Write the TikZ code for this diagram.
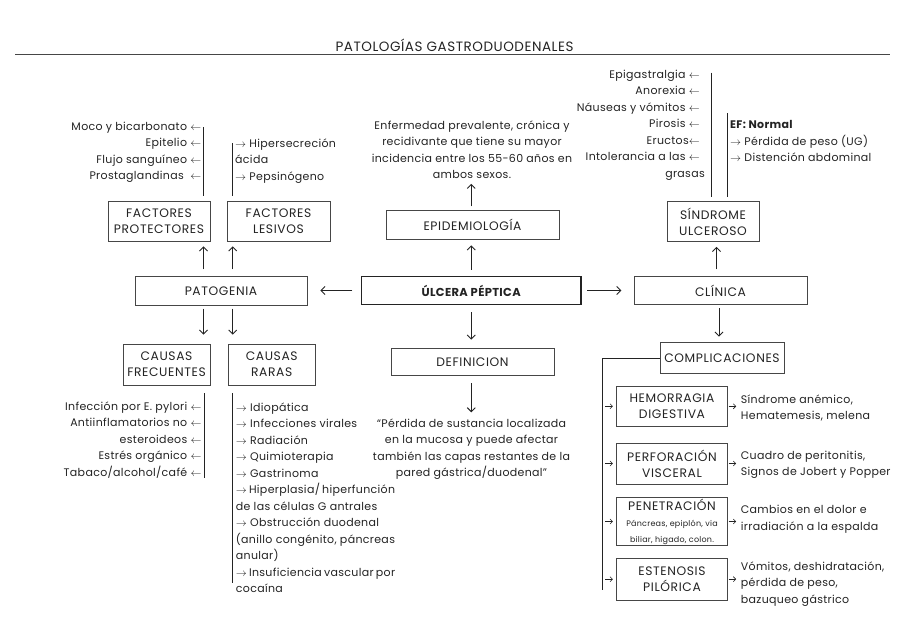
\documentclass[tikz,border=0pt]{standalone}
\usepackage{fontspec}
\setmainfont{Poppins}[LetterSpace=3]
\newfontfamily\cajafont{Poppins}[LetterSpace=5]
\newfontfamily\titulofont{Poppins}[LetterSpace=4]
\usetikzlibrary{arrows.meta,positioning}
\definecolor{tinta}{RGB}{35,35,35}
\definecolor{borde}{RGB}{70,70,70}
\tikzset{
  caja/.style={draw=borde, line width=0.8pt, align=center, inner sep=1pt, text=tinta,
    font=\cajafont\fontsize{12.3}{16}\selectfont},
  texto/.style={inner sep=0pt, text=tinta, font=\fontsize{11}{16.5}\selectfont},
  flecha/.style={draw=tinta, line width=0.9pt, -{Straight Barb[length=4pt,width=8pt]}},
  flechita/.style={draw=tinta, line width=0.6pt, -{Straight Barb[length=2.5pt,width=5pt]}},
  raya/.style={draw=tinta, line width=0.8pt},
}
\newcommand{\flizq}{$\leftarrow$}
\newcommand{\flder}{$\rightarrow$}

\begin{document}
\begin{tikzpicture}[x=1pt,y=-1pt]
\useasboundingbox (0,0) rectangle (905,640);
% titulo
\node[texto, font=\titulofont\fontsize{13.5}{15}\selectfont] (titulo) at (454.5,45) {PATOLOGÍAS GASTRODUODENALES};
\draw[raya, draw=borde] (15,54.5) -- (890,54.5);

% cajas
\node[caja, minimum width=102pt, minimum height=40pt] (protect) at (159,221.5) {FACTORES\\PROTECTORES};
\node[caja, minimum width=103pt, minimum height=40pt] (lesivos) at (278.5,221.5) {FACTORES\\LESIVOS};
\node[caja, minimum width=173pt, minimum height=29pt] (epidemio) at (472.5,224.5) {EPIDEMIOLOGÍA};
\node[caja, minimum width=92pt, minimum height=40pt] (sindrome) at (713,221.5) {SÍNDROME\\ULCEROSO};
\node[caja, minimum width=172pt, minimum height=28.5pt] (patogenia) at (221,291) {PATOGENIA};
\node[caja, draw=tinta, line width=1.4pt, font=\fontsize{11.5}{16}\selectfont\bfseries,
  minimum width=219.5pt, minimum height=27.6pt] (ulcera) at (471.25,290.5) {ÚLCERA PÉPTICA};
\node[caja, minimum width=173pt, minimum height=27.6pt] (clinica) at (720.5,290.5) {CLÍNICA};
\node[caja, minimum width=87pt, minimum height=41pt] (frecuentes) at (166.5,364.5) {CAUSAS\\FRECUENTES};
\node[caja, minimum width=86.5pt, minimum height=41pt] (raras) at (271.75,364.5) {CAUSAS\\RARAS};
\node[caja, minimum width=163pt, minimum height=27.4pt] (definicion) at (472.5,362) {DEFINICION};
\node[caja, minimum width=124pt, minimum height=30.6pt] (complic) at (722,358) {COMPLICACIONES};
\node[caja, minimum width=110.6pt, minimum height=40.7pt] (hemorragia) at (672,406.3) {HEMORRAGIA\\DIGESTIVA};
\node[caja, minimum width=110.6pt, minimum height=41pt] (perforacion) at (672,463.5) {PERFORACIÓN\\VISCERAL};
\node[caja, minimum width=110.6pt, minimum height=48.4pt] (penetracion) at (672,521.5)
  {PENETRACIÓN\\{\rmfamily\fontsize{8}{12.5}\selectfont Páncreas, epiplón, via}\\{\rmfamily\fontsize{8}{12.5}\selectfont biliar, higado, colon.}};
\node[caja, minimum width=110.6pt, minimum height=41.7pt] (estenosis) at (672,579.2) {ESTENOSIS\\PILÓRICA};

% textos
\node[texto, anchor=east, align=right] (protlista) at (201.5,152.5)
  {Moco y bicarbonato \flizq\\Epitelio \flizq\\Flujo sanguíneo \flizq\\Prostaglandinas\ \ \flizq};
\node[texto, anchor=west, align=left] (lesivlista) at (235,160.7)
  {\flder\ Hipersecreción\\ácida\\\flder\ Pepsinógeno};
\node[texto, align=center] (epitexto) at (472,149.5)
  {Enfermedad prevalente, crónica y\\recidivante que tiene su mayor\\incidencia entre los 55-60 años en\\ambos sexos.};
\node[texto, anchor=east, align=right] (clinlista) at (700,124.9)
  {Epigastralgia \flizq\\Anorexia \flizq\\Náuseas y vómitos \flizq\\Pirosis \flizq\\Eructos\flizq\\Intolerancia a las \flizq\\grasas\kern-5pt};
\node[texto, anchor=west, align=left] (eflista) at (730,141)
  {\textbf{EF: Normal}\\\flder\ Pérdida de peso (UG)\\\flder\ Distención abdominal};
\node[texto, anchor=east, align=right] (freclista) at (201.7,439.7)
  {Infección por E. pylori \flizq\\Antiinflamatorios no \flizq\\esteroideos \flizq\\Estrés orgánico \flizq\\Tabaco/alcohol/café \flizq};
\node[texto, anchor=west, align=left] (raralista) at (235.7,497.8)
  {\flder\ Idiopática\\\flder\ Infecciones virales\\\flder\ Radiación\\\flder\ Quimioterapia\\\flder\ Gastrinoma\\
   \makebox[122pt][s]{\flder\ Hiperplasia/ hiperfunción}\\de las células G antrales\\\flder\ Obstrucción duodenal\\
   (anillo congénito, páncreas\\anular)\\\makebox[122pt][s]{\flder\ Insuficiencia vascular por}\\cocaína};
\node[texto, align=center] (deftexto) at (471.5,449)
  {“Pérdida de sustancia localizada\\en la mucosa y puede afectar\\también las capas restantes de la\\pared gástrica/duodenal”};
\node[texto, anchor=west, align=left] (hemtexto) at (740.7,408) {Síndrome anémico,\\Hematemesis, melena};
\node[texto, anchor=west, align=left] (perftexto) at (740.7,464.7) {Cuadro de peritonitis,\\Signos de Jobert y Popper};
\node[texto, anchor=west, align=left] (penetexto) at (740.7,519) {Cambios en el dolor e\\irradiación a la espalda};
\node[texto, anchor=west, align=left] (estentexto) at (740.7,584) {Vómitos, deshidratación,\\pérdida de peso,\\bazuqueo gástrico};

% rayas de las listas
\draw[raya] (203.5,127) -- (203.5,196);
\draw[raya] (232.7,143) -- (232.7,196);
\draw[raya] (711.7,72.7) -- (711.7,196.7);
\draw[raya] (727.7,113) -- (727.7,197);
\draw[raya] (204,393) -- (204,478);
\draw[raya] (232.5,393) -- (232.5,583);

% conectores
\coordinate (pA) at (203.5,0);
\coordinate (pB) at (232.7,0);
\coordinate (cA) at (716.5,0);
\coordinate (cB) at (719,0);
\draw[flecha, shorten <=7pt, shorten >=4.5pt] (patogenia.north -| pA) -- (protect.south -| pA);
\draw[flecha, shorten <=7pt, shorten >=4.5pt] (patogenia.north -| pB) -- (lesivos.south -| pB);
\draw[flecha, shorten <=3pt, shorten >=9pt] (patogenia.south -| pA) -- (frecuentes.north -| pA);
\draw[flecha, shorten <=3pt, shorten >=9pt] (patogenia.south -| pB) -- (raras.north -| pB);
\draw[flecha, shorten <=8.5pt, shorten >=13pt] (ulcera.west) -- (ulcera.west -| patogenia.east);
\draw[flecha, shorten <=5.7pt, shorten >=12.3pt] (ulcera.east) -- (ulcera.east -| clinica.west);
\draw[flecha, shorten <=6.5pt, shorten >=6pt] (ulcera.north) -- (ulcera.north |- epidemio.south);
\draw[flecha, shorten <=3.3pt, shorten >=5pt] (epidemio.north -| ulcera.north) -- (epitexto.south -| ulcera.north);
\draw[flecha, shorten <=7.4pt, shorten >=8.3pt] (ulcera.south) -- (ulcera.south |- definicion.north);
\draw[flecha, shorten <=7.3pt, shorten >=6pt] (definicion.south -| ulcera.south) -- (deftexto.north -| ulcera.south);
\draw[flecha, shorten <=7pt, shorten >=5pt] (clinica.north -| cA) -- (sindrome.south -| cA);
\draw[flecha, shorten <=3.3pt, shorten >=5.7pt] (clinica.south -| cB) -- (complic.north -| cB);
\coordinate (eje) at (602.3,590);
\draw[raya] (complic.west) -| (eje);
\foreach \n/\t in {hemorragia/hemtexto, perforacion/perftexto, penetracion/penetexto, estenosis/estentexto} {
  \draw[flechita, shorten <=2.7pt, shorten >=3.4pt] (eje |- \n.west) -- (\n.west);
  \draw[flechita, shorten <=1pt, shorten >=4.5pt] (\n.east) -- (\n.east -| \t.west);
}
\end{tikzpicture}
\end{document}
